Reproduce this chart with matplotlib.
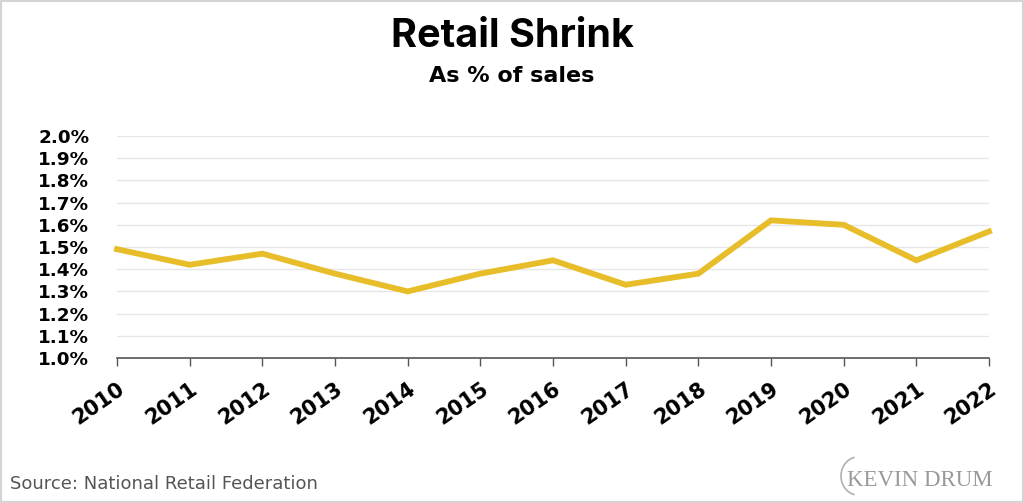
import matplotlib
matplotlib.use("Agg")
import matplotlib.pyplot as plt
from matplotlib.patches import Rectangle, Arc
from matplotlib.ticker import FuncFormatter

years = [2010, 2011, 2012, 2013, 2014, 2015, 2016, 2017, 2018, 2019, 2020, 2021, 2022]
shrink = [1.49, 1.42, 1.47, 1.38, 1.30, 1.38, 1.44, 1.33, 1.38, 1.62, 1.60, 1.44, 1.57]
yticks = [1.0, 1.1, 1.2, 1.3, 1.4, 1.5, 1.6, 1.7, 1.8, 1.9, 2.0]

W, H = 1024, 503
fig = plt.figure(figsize=(W / 100, H / 100), dpi=100, facecolor="white")
ax = fig.add_axes([117 / W, 1 - 358 / H, (989 - 117) / W, (358 - 136) / H])

ax.plot(years, shrink, color="#E8BD2A", linewidth=4.2, solid_joinstyle="miter", clip_on=False)

ax.set_xlim(2010, 2022)
ax.set_ylim(1.0, 2.0)
ax.set_yticks(yticks)
ax.yaxis.set_major_formatter(FuncFormatter(lambda v, p: "%.1f%%" % v))
ax.set_xticks(years)
ax.set_xticklabels([str(y) for y in years], rotation=35, ha="right", rotation_mode="anchor")

ax.grid(axis="y", color="#e6e6e6", linewidth=1.0)
ax.set_axisbelow(True)
for s in ["top", "right", "left"]:
    ax.spines[s].set_visible(False)
ax.spines["bottom"].set_color("#555555")
ax.spines["bottom"].set_linewidth(1.2)
ax.tick_params(axis="y", length=0, pad=20)
ax.tick_params(axis="x", length=6, color="#555555", width=1.0, pad=9)

for lab in ax.get_yticklabels():
    lab.set_fontfamily("DejaVu Sans")
    lab.set_fontweight("bold")
    lab.set_fontsize(13.2)
for lab in ax.get_xticklabels():
    lab.set_fontfamily("DejaVu Sans")
    lab.set_fontweight("bold")
    lab.set_fontsize(15)

fig.text(0.5, 1 - 37 / H, "Retail Shrink", ha="center", va="center",
         fontsize=28.5, fontweight="bold", family="Inter")
fig.text(0.5, 1 - 76 / H, "As % of sales", ha="center", va="center",
         fontsize=16, fontweight="bold", family="DejaVu Sans")

fig.text(10 / W, 1 - 484 / H, "Source: National Retail Federation", ha="left", va="center",
         fontsize=13, color="#555555", family="DejaVu Sans")

# logo
fig.text(993 / W, 1 - 481 / H, "KEVIN DRUM", ha="right", va="center",
         fontsize=16.5, color="#999999", family="Liberation Serif")
fig.patches.append(Arc((858 / W, 1 - 476 / H), 34 / W, 38 / H, theta1=95, theta2=265,
                       transform=fig.transFigure, color="#b0b0b0", linewidth=1.2))

fig.patches.append(Rectangle((0, 0), 1, 1, transform=fig.transFigure, fill=False,
                             edgecolor="#d4d4d4", linewidth=3))

fig.savefig("out.png", dpi=100, facecolor="white")
